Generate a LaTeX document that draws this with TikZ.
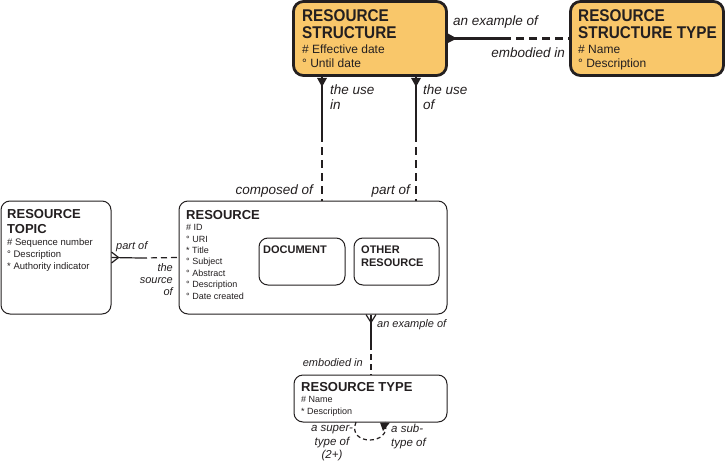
\documentclass[tikz,border=0pt]{standalone}
\usepackage{fontspec}
\setmainfont{Liberation Sans}
\newfontfamily\stretchfont{Liberation Sans}[FakeStretch=0.9]
\definecolor{orangefill}{HTML}{F9C76A}
\definecolor{ink}{HTML}{231F20}
\begin{document}
\begin{tikzpicture}[x=1pt,y=-1pt,
  topbox/.style={draw=ink, line width=2.8pt, fill=orangefill, rounded corners=10pt, inner sep=0},
  ent/.style={draw=ink, line width=1pt, fill=white, rounded corners=9pt, inner sep=0},
  txt/.style={anchor=base west, inner sep=0, text=ink},
  rtxt/.style={anchor=base east, inner sep=0, text=ink},
  bigtitle/.style={txt, font=\stretchfont\bfseries\fontsize{17}{17}\selectfont},
  title/.style={txt, font=\bfseries\fontsize{13}{13}\selectfont},
  subtitle/.style={txt, font=\bfseries\fontsize{11}{11}\selectfont},
  bigattr/.style={txt, font=\fontsize{12}{12}\selectfont},
  attr/.style={txt, font=\fontsize{9}{9}\selectfont},
  topattr/.style={txt, font=\fontsize{9.5}{9.5}\selectfont},
  biglab/.style={font=\itshape\fontsize{13.5}{13.5}\selectfont},
  lab/.style={font=\itshape\fontsize{11}{11}\selectfont},
  looplab/.style={font=\itshape\fontsize{11.5}{13.5}\selectfont, inner sep=0, text=ink},
  thickrel/.style={draw=ink, line width=2.8pt},
  thickopt/.style={draw=ink, line width=2.8pt, dash pattern=on 8pt off 5pt},
  thinrel/.style={draw=ink, line width=1.2pt},
  thinopt/.style={draw=ink, line width=1.2pt, dash pattern=on 6pt off 4pt}
]
\useasboundingbox (0,0) rectangle (726,461);

% ---------- boxes ----------
\node[topbox, minimum width=153pt, minimum height=74pt] (rs) at (370,38.5) {};
\node[topbox, minimum width=153pt, minimum height=74pt] (rst) at (647,38.5) {};
\node[ent, minimum width=268pt, minimum height=113pt] (res) at (313,257.5) {};
\node[ent, minimum width=86pt, minimum height=47pt] (doc) at (302,261.5) {};
\node[ent, minimum width=85pt, minimum height=47pt] (oth) at (396.5,261.5) {};
\node[ent, minimum width=110pt, minimum height=113pt] (top) at (56,257.5) {};
\node[ent, minimum width=153pt, minimum height=47pt] (rt) at (370.5,398.5) {};

% ---------- box texts ----------
\node[bigtitle] (rs1) at (302,21) {RESOURCE};
\node[bigtitle] (rs2) at (302,38.5) {STRUCTURE};
\node[bigattr] (rs3) at (302,53) {\# Effective date};
\node[bigattr] (rs4) at (302,67.5) {° Until date};

\node[bigtitle] (rst1) at (578,21) {RESOURCE};
\node[bigtitle] (rst2) at (578,38.5) {STRUCTURE TYPE};
\node[bigattr] (rst3) at (578,53) {\# Name};
\node[bigattr] (rst4) at (578,67.5) {° Description};

\node[title] (r1) at (186,219) {RESOURCE};
\node[attr] (r2) at (186,230.5) {\# ID};
\node[attr] (r3) at (186,242) {° URI};
\node[attr] (r4) at (186,253.4) {* Title};
\node[attr] (r5) at (186,264.8) {° Subject};
\node[attr] (r6) at (186,276.2) {° Abstract};
\node[attr] (r7) at (186,287.6) {° Description};
\node[attr] (r8) at (186,299) {° Date created};

\node[subtitle] (d1) at (263,253) {DOCUMENT};
\node[subtitle] (o1) at (361,253) {OTHER};
\node[subtitle] (o2) at (361,266) {RESOURCE};

\node[title] (t1) at (7,218.5) {RESOURCE};
\node[title] (t2) at (7,233) {TOPIC};
\node[topattr] (t3) at (7,245.5) {\# Sequence number};
\node[topattr] (t4) at (7,257.5) {° Description};
\node[topattr] (t5) at (7,269) {* Authority indicator};

\node[title] (rt1) at (301,391) {RESOURCE TYPE};
\node[attr] (rt2) at (301,402.5) {\# Name};
\node[attr] (rt3) at (301,414) {* Description};

% ---------- RS -- RST ----------
\coordinate (h1) at (503,38.5);
\draw[thickrel] (rs.east) -- (h1);
\draw[thickopt] (h1) -- (rst.west);
\fill[ink] ([yshift=5pt]rs.east) -- ([yshift=-4.5pt]rs.east) -- ([xshift=9pt]rs.east) -- cycle;
\node[txt, biglab] (l1) at (453,25) {an example of};
\node[rtxt, biglab] (l2) at (565,57) {embodied in};

% ---------- RS -- RESOURCE (two lines) ----------
\coordinate (xa) at (322,0);
\coordinate (xb) at (416,0);
\coordinate (ma) at (322,134);
\coordinate (mb) at (416,134);
\draw[thickrel] (rs.south -| xa) -- (ma);
\draw[thickopt] (ma) -- (res.north -| xa);
\draw[thickrel] (rs.south -| xb) -- (mb);
\draw[thickopt] (mb) -- (res.north -| xb);
\fill[ink] ([xshift=-5pt,yshift=-1pt]rs.south -| xa) -- ([xshift=5pt,yshift=-1pt]rs.south -| xa) -- ([yshift=-10pt]rs.south -| xa) -- cycle;
\fill[ink] ([xshift=-5pt,yshift=-1pt]rs.south -| xb) -- ([xshift=5pt,yshift=-1pt]rs.south -| xb) -- ([yshift=-10pt]rs.south -| xb) -- cycle;
\node[txt, biglab] (l3) at (330,94) {the use};
\node[txt, biglab] (l4) at (330,109) {in};
\node[txt, biglab] (l5) at (423,94) {the use};
\node[txt, biglab] (l6) at (423,109) {of};
\node[rtxt, biglab] (l7) at (313,194) {composed of};
\node[rtxt, biglab] (l8) at (410,194) {part of};

% ---------- TOPIC -- RESOURCE ----------
\coordinate (mt) at (141,258);
\draw[thinrel] (top.east) -- (mt);
\draw[thinopt] (mt) -- (res.west);
\draw[thinrel] ([yshift=5.5pt]top.east) -- ([xshift=7pt]top.east) -- ([yshift=-5.5pt]top.east);
\node[txt, lab] (l9) at (116,249) {part of};
\node[rtxt, lab] (l10) at (173,271) {the};
\node[rtxt, lab] (l11) at (173,283) {source};
\node[rtxt, lab] (l12) at (173,295) {of};

% ---------- RESOURCE -- RESOURCE TYPE ----------
\coordinate (xc) at (371,0);
\coordinate (mc) at (371,344);
\draw[thinrel] (res.south -| xc) -- (mc);
\draw[thinopt] (mc) -- (rt.north -| xc);
\draw[thinrel] ([xshift=-5pt]res.south -| xc) -- ([yshift=-8pt]res.south -| xc) -- ([xshift=5pt]res.south -| xc);
\node[txt, lab] (l13) at (377,327) {an example of};
\node[rtxt, lab] (l14) at (363,366) {embodied in};

% ---------- RESOURCE TYPE self loop ----------
\coordinate (la) at (356,422);
\coordinate (lb) at (385,422);
\draw[thinopt, dash pattern=on 4pt off 3pt] (la) .. controls (346,446) and (393,446) .. (lb);
\fill[ink] (380,422.5) -- (390,422.5) -- (383,431) -- cycle;
\node[looplab, align=center, anchor=north] (l15) at (332,425.5) {a super-\\type of\\(2+)};
\node[looplab, align=left, anchor=north west] (l16) at (391,424) {a sub-\\type of};

\end{tikzpicture}
\end{document}
